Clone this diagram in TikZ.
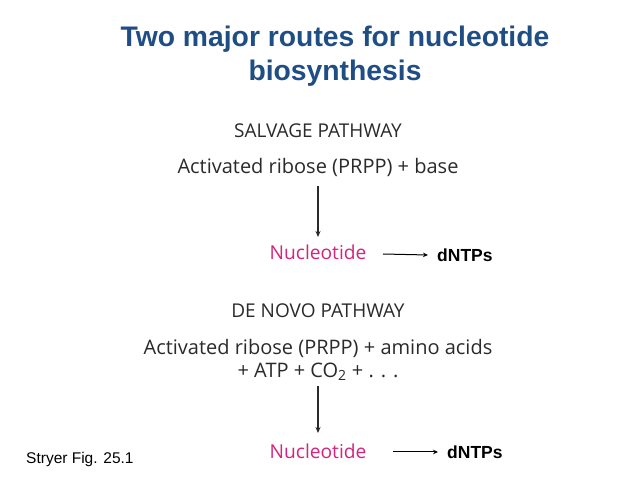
\documentclass[tikz,border=0pt]{standalone}
\usepackage{fontspec}
\setmainfont{Liberation Sans}
\newfontfamily\bookfont{Open Sans}
\usetikzlibrary{arrows.meta}
\definecolor{titleblue}{HTML}{1F4E85}
\definecolor{nucmag}{HTML}{D4247E}
\definecolor{booktext}{HTML}{2A2A2A}
\tikzset{
  titletext/.style={font=\fontsize{28.3}{34}\selectfont\bfseries, text=titleblue, align=center},
  headtext/.style={font=\bookfont\fontsize{19}{22}\selectfont, text=booktext, inner sep=0pt},
  bodytext/.style={font=\bookfont\fontsize{20}{23}\selectfont, text=booktext, inner sep=0pt, align=center},
  nuctext/.style={font=\bookfont\fontsize{19.2}{23}\selectfont, text=nucmag, inner sep=0pt},
  dntext/.style={font=\fontsize{17.5}{20}\selectfont\bfseries, inner sep=0pt, anchor=west},
  arr/.style={-{Stealth[length=6pt,width=5pt]}, line width=1.3pt, draw=booktext},
  harr/.style={-{Stealth[length=5pt,width=4.5pt]}, line width=1pt, draw=black}
}
\begin{document}
\begin{tikzpicture}[x=1pt,y=-1pt]
\useasboundingbox (0,0) rectangle (638,478);
\node[titletext] (title) at (335,56) {Two major routes for nucleotide\\biosynthesis};

\node[headtext] (salv) at (318,131) {SALVAGE PATHWAY};
\node[bodytext] (sin) at (318,167) {Activated ribose (PRPP) + base};
\node[nuctext] (snuc) at (318,252) {Nucleotide};
\coordinate (sa1) at (318,186);
\coordinate (sa2) at (318,237);
\draw[arr] (sa1) -- (sa2);
\node[dntext] (sd) at (437,255) {dNTPs};
\coordinate (sh1) at (383,254);
\draw[harr] (sh1) -- (sd.west -| 428,0);

\node[headtext] (dn) at (318,311) {DE NOVO PATHWAY};
\node[bodytext] (din) at (318,360) {Activated ribose (PRPP) + amino acids\\+ ATP + CO\textsubscript{2} + . . .};
\node[nuctext] (dnuc) at (318,451) {Nucleotide};
\coordinate (da1) at (318,386);
\coordinate (da2) at (318,433);
\draw[arr] (da1) -- (da2);
\node[dntext] (dd) at (447,452) {dNTPs};
\coordinate (dh1) at (393,452);
\draw[harr] (dh1) -- (dd.west -| 438,0);

\node[font=\fontsize{15.5}{18}\selectfont, anchor=west, inner sep=0pt] (stryer) at (26,459) {Stryer Fig. 25.1};
\end{tikzpicture}
\end{document}
